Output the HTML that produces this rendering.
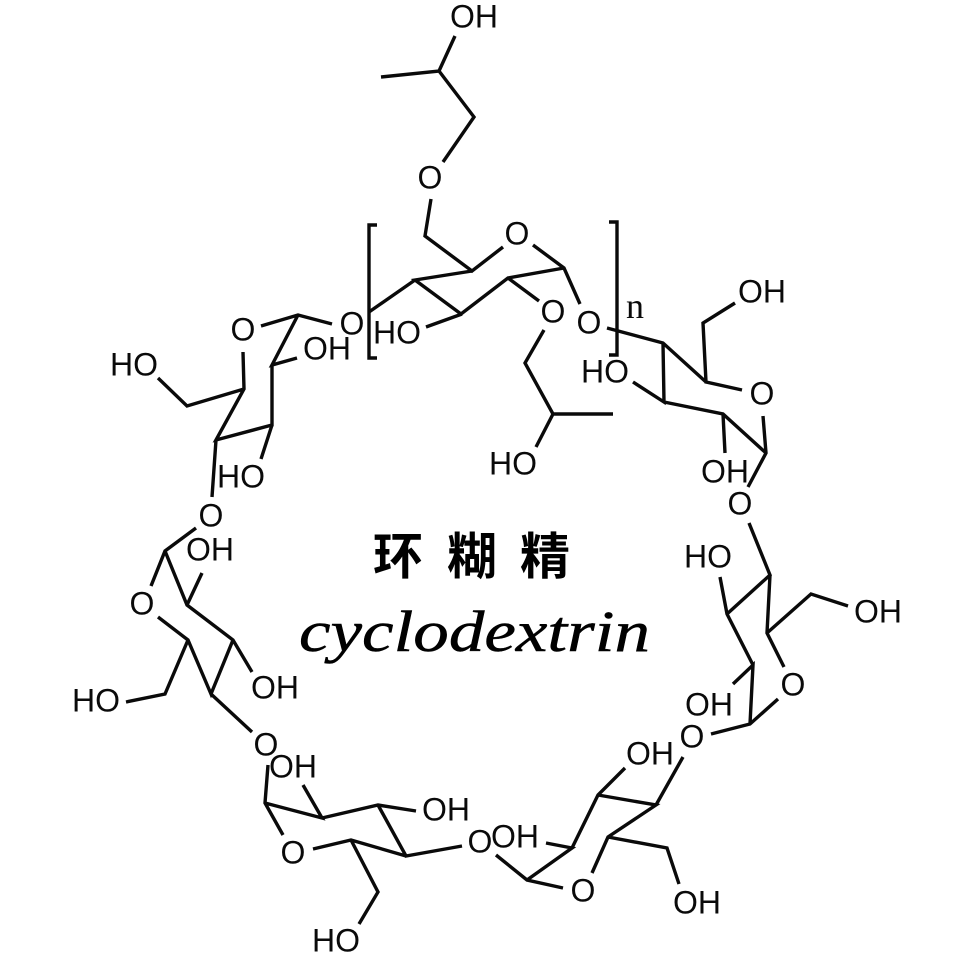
<!DOCTYPE html>
<html><head><meta charset="utf-8"><style>
html,body{margin:0;padding:0;background:#fff}
svg{display:block}
.b{fill:none;stroke:#0a0a0a;stroke-width:3.4;stroke-linecap:butt;stroke-linejoin:miter}
.t{font-family:"Liberation Sans",sans-serif;font-size:32px;fill:#0a0a0a;text-anchor:middle}
.c{font-family:"Liberation Sans","Noto Sans CJK SC",sans-serif;font-size:50px;font-weight:700;fill:#000;text-anchor:middle}
</style></head><body>
<svg width="960" height="960" viewBox="0 0 960 960" xmlns="http://www.w3.org/2000/svg">
<rect width="960" height="960" fill="#fff"/>
<g class="b">
<!-- top side chain -->
<path d="M455,36L439,71M381,77L439,71L474,117L443,162M431,199L425,236L472,271L503,247M533,245L564,268L580,304"/>
<!-- top ring -->
<path d="M564,268L508,278L461,314L415,280L472,271M415,280L369,312M508,278L539,301M462,314L426,327"/>
<!-- brackets -->
<path d="M377,225H369V358H377M609,222H617V355H609"/>
<!-- lower side chain -->
<path d="M544,330L525,363L553,414L613,414M553,414L536,447"/>
<!-- left-top ring -->
<path d="M261,326L298,315L332,324M298,315L272,365L297,358M272,365L272,425L216,440L244,389L243,352M244,389L187,406L158,378M272,425L261,459M216,440L212,497"/>
<!-- left ring -->
<path d="M196,528L165,551L151,586M165,551L187,605L233,640L252,672M202,573L187,605M158,617L188,640L211,694L233,640M188,640L165,694L126,702M211,694L252,732"/>
<!-- bottom-left ring -->
<path d="M268,765L265,803L283,835M265,803L322,818L303,785M322,818L378,805L416,811M378,805L406,856L462,846M406,856L351,840L313,849M351,840L378,892L359,924"/>
<!-- bottom-right ring -->
<path d="M496,855L527,880L563,888M527,880L572,848L546,843M572,848L598,795L625,768M598,795L656,805L608,837L592,873M656,805L683,757M608,837L667,848L679,884"/>
<!-- right-lower ring -->
<path d="M711,734L750,724L778,699M750,724L753,665L733,684M753,665L727,614L720,577M727,614L770,575L749,523M770,575L767,633L784,667M767,633L811,594L848,606"/>
<!-- right-upper ring -->
<path d="M748,487L766,453L763,416M742,390L706,382L703,323L735,303M706,382L663,343L607,328M663,343L664,402L633,382M664,402L723,414L766,453M723,414L725,453"/>
</g>
<g class="t" transform="translate(0,-1.5)">
<text x="474" y="29">OH</text>
<text x="430" y="190">O</text>
<text x="517" y="246">O</text>
<text x="553" y="324">O</text>
<text x="589" y="335">O</text>
<text x="397" y="345">HO</text>
<text x="352" y="336">O</text>
<text x="243" y="342">O</text>
<text x="327" y="361">OH</text>
<text x="134" y="377">HO</text>
<text x="241" y="489">HO</text>
<text x="211" y="528">O</text>
<text x="210" y="562">OH</text>
<text x="142" y="616">O</text>
<text x="275" y="700">OH</text>
<text x="96" y="713">HO</text>
<text x="266" y="757">O</text>
<text x="293" y="779">OH</text>
<text x="446" y="822">OH</text>
<text x="293" y="865">O</text>
<text x="480" y="854">O</text>
<text x="336" y="953">HO</text>
<text x="515" y="849">OH</text>
<text x="583" y="903">O</text>
<text x="650" y="766">OH</text>
<text x="697" y="915">OH</text>
<text x="692" y="749">O</text>
<text x="709" y="717">OH</text>
<text x="793" y="697">O</text>
<text x="708" y="569">HO</text>
<text x="878" y="624">OH</text>
<text x="740" y="516">O</text>
<text x="725" y="484">OH</text>
<text x="762" y="406">O</text>
<text x="605" y="384">HO</text>
<text x="762" y="304">OH</text>
<text x="513" y="476">HO</text>
</g>
<text x="626" y="318" font-family="'Liberation Serif',serif" font-size="36" fill="#0a0a0a">n</text>
<g class="c">
<text x="398" y="574">环</text>
<text x="472" y="574">糊</text>
<text x="545" y="574">精</text>
</g>
<text x="299" y="651" font-family="'Liberation Serif',serif" font-style="italic" font-size="58" fill="#000" stroke="#000" stroke-width="0.5" textLength="351" lengthAdjust="spacingAndGlyphs">cyclodextrin</text>
</svg>
</body></html>
